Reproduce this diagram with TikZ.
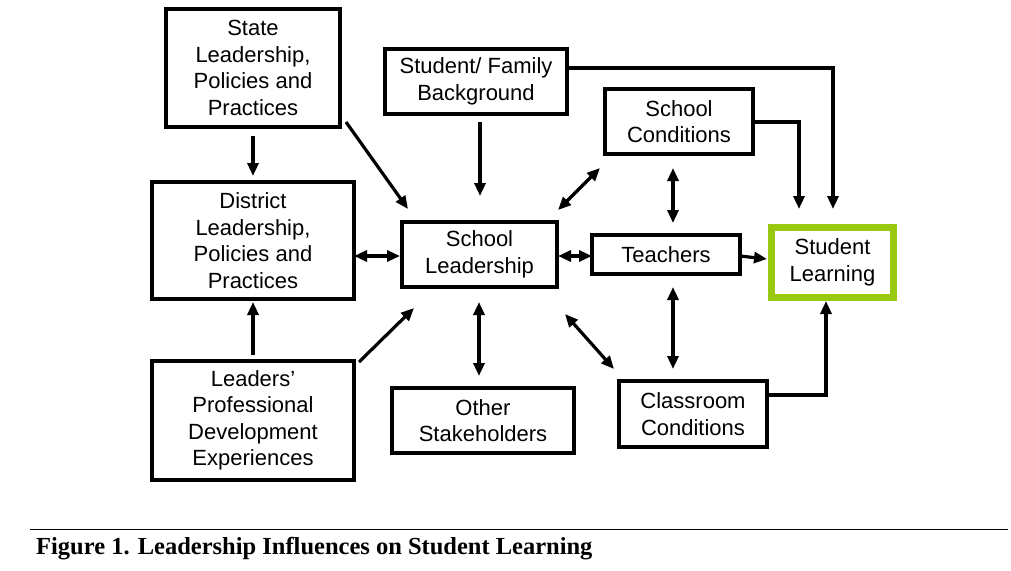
\documentclass[tikz,border=0pt]{standalone}
\usepackage{fontspec}
\setmainfont{Liberation Sans}
\newfontfamily\capfont{Liberation Serif}
\usetikzlibrary{arrows.meta}
\definecolor{lgreen}{HTML}{99C810}
\begin{document}
\begin{tikzpicture}[x=1pt,y=-1pt,
  box/.style={draw,line width=3.5pt,align=center,font=\fontsize{22}{26.5}\selectfont,inner sep=0pt},
  conn/.style={line width=3.2pt,-{Triangle[length=13pt,width=11pt]}},
  dconn/.style={line width=3.2pt,{Triangle[length=13pt,width=11pt]}-{Triangle[length=13pt,width=11pt]}},
  plain/.style={line width=3pt}]
\useasboundingbox (0,0) rectangle (1011,570);
\fill[white] (0,0) rectangle (1011,570);
% boxes
\node[box,minimum width=174pt,minimum height=118pt] (state) at (253,68) {State\\Leadership,\\Policies and\\Practices};
\node[box,minimum width=202pt,minimum height=117pt] (district) at (253,240.5) {District\\Leadership,\\Policies and\\Practices};
\node[box,minimum width=202pt,minimum height=119pt] (leaders) at (253,420.5) {Leaders’\\Professional\\Development\\Experiences};
\node[box,minimum width=182pt,minimum height=65pt] (sf) at (476,81.5) {Student/ Family\\Background};
\node[box,minimum width=155pt,minimum height=65pt] (sl) at (479.5,254.5) {School\\Leadership};
\node[box,minimum width=182pt,minimum height=65pt] (other) at (483,420.5) {Other\\Stakeholders};
\node[box,minimum width=148pt,minimum height=65pt] (sc) at (679,121.5) {School\\Conditions};
\node[box,minimum width=148pt,minimum height=39pt] (teach) at (666,254.5) {Teachers};
\node[box,minimum width=148pt,minimum height=66pt] (cc) at (693,414) {Classroom\\Conditions};
\node[box,draw=lgreen,line width=7pt,minimum width=122pt,minimum height=70pt] (learn) at (832.5,262.5) {Student\\Learning};
% coordinates
\coordinate (a1) at (253,136); \coordinate (a2) at (253,176);
\coordinate (b1) at (346,122); \coordinate (b2) at (408,209);
\coordinate (c1) at (480,122); \coordinate (c2) at (480,196);
\coordinate (d1) at (354,256); \coordinate (d2) at (400,256);
\coordinate (e1) at (558,256); \coordinate (e2) at (592,256);
\coordinate (f1) at (600,168); \coordinate (f2) at (558,210);
\coordinate (g1) at (673,168); \coordinate (g2) at (673,223);
\coordinate (h1) at (740,256); \coordinate (h2) at (767,259);
\coordinate (i1) at (673,287); \coordinate (i2) at (673,369);
\coordinate (j1) at (565,314); \coordinate (j2) at (614,369);
\coordinate (k1) at (253,355); \coordinate (k2) at (253,302);
\coordinate (l1) at (359,362); \coordinate (l2) at (414,308);
\coordinate (m1) at (479,302); \coordinate (m2) at (479,376);
\coordinate (sck) at (799,122); \coordinate (sct) at (799,209);
\coordinate (sfk) at (833,68); \coordinate (sft) at (833,209);
\coordinate (cck) at (826,395); \coordinate (cct) at (826,301);
% connectors
\draw[conn] (a1) -- (a2);
\draw[conn] (b1) -- (b2);
\draw[conn] (c1) -- (c2);
\draw[dconn] (d1) -- (d2);
\draw[dconn] (e1) -- (e2);
\draw[dconn] (f1) -- (f2);
\draw[dconn] (g1) -- (g2);
\draw[conn] (h1) -- (h2);
\draw[dconn] (i1) -- (i2);
\draw[dconn] (j1) -- (j2);
\draw[conn] (k1) -- (k2);
\draw[conn] (l1) -- (l2);
\draw[dconn] (m1) -- (m2);
\draw[conn,line join=miter] (sc.east |- sck) -- (sck) -- (sct);
\draw[conn,line join=miter] (sf.east |- sfk) -- (sfk) -- (sft);
\draw[conn,line join=miter] (cc.east |- cck) -- (cck) -- (cct);
% caption
\draw[line width=1pt] (30,529) -- (1008,529);
\node[anchor=base west,inner sep=0pt,font=\capfont\bfseries\fontsize{24.5}{28}\selectfont] (cap) at (36,554) {Figure 1. Leadership Influences on Student Learning};
\end{tikzpicture}
\end{document}
